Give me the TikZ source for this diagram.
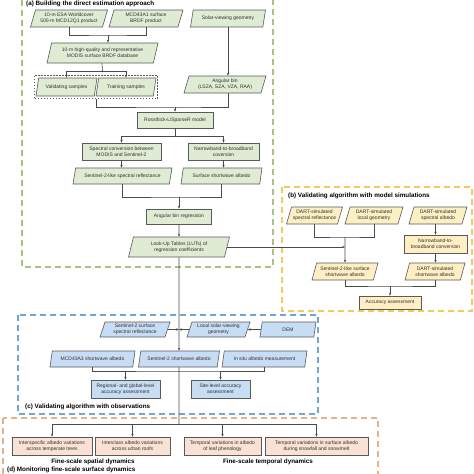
\documentclass[tikz,border=0pt]{standalone}
\usepackage{fontspec}
\setmainfont{Liberation Sans}
\usetikzlibrary{shapes.geometric,arrows.meta,fit}
\definecolor{boxline}{HTML}{5A5A5A}
\definecolor{linkgray}{HTML}{4A4A4A}
\definecolor{txt}{HTML}{303030}
\definecolor{gfill}{HTML}{E0EBD3}
\definecolor{yfill}{HTML}{FDEEC4}
\definecolor{bfill}{HTML}{C7DDF4}
\definecolor{ofill}{HTML}{F9E2D3}
\definecolor{gframe}{HTML}{A8C283}
\definecolor{yframe}{HTML}{F3CB5A}
\definecolor{bframe}{HTML}{6FA6D6}
\definecolor{oframe}{HTML}{E2B487}
\begin{document}
\begin{tikzpicture}[x=1pt,y=-1pt,
		box/.style={draw=boxline,line width=0.6pt,text=txt,font=\fontsize{5}{5.8}\selectfont,align=center,inner sep=1pt},
		rect/.style={box,rectangle},
		par/.style={box,trapezium,trapezium left angle=68,trapezium right angle=112,trapezium stretches body},
		link/.style={draw=linkgray,line width=0.6pt},
		arr/.style={link,-{Stealth[length=3pt,width=2.4pt]}},
		frame/.style={line width=1.1pt,dash pattern=on 6pt off 4pt},
		title/.style={font=\fontsize{6.3}{7}\selectfont\bfseries,text=black,inner sep=0pt}]
	\useasboundingbox (0,0) rectangle (474,474);
	\fill[white] (0,0) rectangle (474,474);
	\draw[frame,draw=gframe] (22,-10) rectangle (273,267);
	\draw[frame,draw=yframe] (282,187) rectangle (472,311);
	\draw[frame,draw=bframe] (18,315) rectangle (318,414);
	\draw[frame,draw=oframe] (3,418) rectangle (378,490);
	\node[title,anchor=base west] (ta) at (26,5.5) {(a) Building the direct estimation approach};
	\node[title,anchor=base west] (tb) at (288,197.5) {(b) Validating algorithm with model simulations};
	\node[title,anchor=base west] (tc) at (25,408.5) {(c) Validating algorithm with observations};
	\node[title,anchor=north west] (td) at (7,466.5) {(d) Monitoring fine-scale surface dynamics};
	\node[par,fill=gfill,minimum width=77pt,minimum height=17pt] (esa) at (69,18.5) {10-m ESA Worldcover\\500-m MCD12Q1 product};
	\node[par,fill=gfill,minimum width=74pt,minimum height=17pt] (mcd1) at (146,18.5) {MCD43A1 surface\\BRDF product};
	\node[par,fill=gfill,minimum width=75pt,minimum height=17pt] (solar) at (228,18.5) {Solar-viewing geometry};
	\node[par,fill=gfill,minimum width=111pt,minimum height=20pt] (db) at (102.5,53) {10-m high-quality and representative\\MODIS surface BRDF database};
	\node[par,fill=gfill,minimum width=61pt,minimum height=18pt] (valid) at (66.5,87) {Validating samples};
	\node[par,fill=gfill,minimum width=60pt,minimum height=18pt] (train) at (126,87) {Training samples};
	\node[draw=boxline,line width=0.7pt,dash pattern=on 1.5pt off 1.5pt,inner sep=2.5pt,fit=(valid)(train)] (samples) {};
	\node[par,fill=gfill,minimum width=82pt,minimum height=17pt] (bin) at (225,84.5) {Angular bin\\(LSZA, SZA, VZA, RAA)};
	\node[rect,fill=gfill,minimum width=76pt,minimum height=16pt] (ross) at (175,120) {Rossthick-LiSparseR model};
	\node[rect,fill=gfill,minimum width=79pt,minimum height=17pt] (spec) at (121.5,151.5) {Spectral conversion between\\MODIS and Sentinel-2};
	\node[rect,fill=gfill,minimum width=71pt,minimum height=17pt] (nbb) at (223.5,151.5) {Narrowband-to-broadband\\coversion};
	\node[par,fill=gfill,minimum width=99pt,minimum height=16pt] (s2like) at (122.5,176) {Sentinel-2-like spectral reflectance};
	\node[par,fill=gfill,minimum width=81pt,minimum height=16pt] (ssa) at (221.5,176) {Surface shortwave albedo};
	\node[rect,fill=gfill,minimum width=65pt,minimum height=15pt] (binreg) at (179,216.5) {Angular bin regression};
	\node[par,fill=gfill,minimum width=101pt,minimum height=20pt] (lut) at (179,247) {Look-Up Tables (LUTs) of\\regression coefficients};
	\node[par,fill=yfill,minimum width=56pt,minimum height=17pt] (dsr) at (314.5,215.5) {DART-simulated\\spectral reflectance};
	\node[par,fill=yfill,minimum width=58pt,minimum height=17pt] (dlg) at (374,215.5) {DART-simulated\\local geometry};
	\node[par,fill=yfill,minimum width=58pt,minimum height=17pt] (dsa) at (438,215.5) {DART-simulated\\spectral albedo};
	\node[rect,fill=yfill,minimum width=63pt,minimum height=18pt] (nb2) at (435.5,244) {Narrowband-to-\\broadband conversion};
	\node[par,fill=yfill,minimum width=66pt,minimum height=17pt] (s2sw) at (345,271.5) {Sentinel-2-like surface\\shortwave albedo};
	\node[par,fill=yfill,minimum width=60pt,minimum height=17pt] (dsw) at (435,271.5) {DART-simulated\\shortwave albedo};
	\node[rect,fill=yfill,minimum width=62pt,minimum height=13pt] (acc) at (390,302.5) {Accuracy assessment};
	\node[par,fill=bfill,minimum width=70pt,minimum height=15pt] (s2ref) at (135,329.5) {Sentinel-2 surface\\spectral reflectance};
	\node[par,fill=bfill,minimum width=63pt,minimum height=15pt] (lsv) at (218.5,329.5) {Local solar-viewing\\geometry};
	\node[par,fill=bfill,minimum width=56pt,minimum height=15pt] (dem) at (288,329.5) {DEM};
	\node[par,fill=bfill,minimum width=85pt,minimum height=16pt] (mcd3) at (92.5,359) {MCD43A3 shortwave albedo};
	\node[par,fill=bfill,minimum width=81pt,minimum height=16pt] (s2sa) at (179,359) {Sentinel-2 shortwave albedo};
	\node[par,fill=bfill,minimum width=85pt,minimum height=16pt] (insitu) at (264.5,359) {In situ albedo measurement};
	\node[rect,fill=bfill,minimum width=69pt,minimum height=18pt] (regional) at (125.5,389) {Regional- and global-level\\accuracy assessment};
	\node[rect,fill=bfill,minimum width=59pt,minimum height=18pt] (site) at (220.5,389) {Site-level accuracy\\assessment};
	\node[rect,fill=ofill,minimum width=80pt,minimum height=18pt] (trees) at (52,446) {Interspecific albedo variations\\across temperate trees};
	\node[rect,fill=ofill,minimum width=75pt,minimum height=18pt] (roofs) at (132.5,446) {Interclass albedo variations\\across urban roofs};
	\node[rect,fill=ofill,minimum width=77pt,minimum height=18pt] (leaf) at (222.5,446) {Temporal variations in albedo\\of leaf phenology};
	\node[rect,fill=ofill,minimum width=103pt,minimum height=18pt] (snow) at (316.5,446) {Temporal variations in surface albedo\\during snowfall and snowmelt};
	\node[title] (spatial) at (93,462) {Fine-scale spatial dynamics};
	\node[title] (temporal) at (268,462) {Fine-scale temporal dynamics};
	\coordinate (j1) at (108,35);
	\coordinate (j2) at (102,71);
	\coordinate (j3) at (175,107);
	\coordinate (j4) at (175,136);
	\coordinate (j5) at (179,197);
	\coordinate (j6) at (345,237);
	\coordinate (j7) at (390,286);
	\coordinate (j8) at (179,371);
	\coordinate (j9) at (179,424);
	\draw[link] (esa.south) |- (j1) -| (mcd1.south);
	\draw[arr] (j1) -- (j1 |- db.north);
	\draw[link] (db.south |- j2) -- (j2 |- db.south);
	\draw[arr] (j2) -| (valid.north);
	\draw[arr] (j2) -| (train.north);
	\draw[arr] (solar.south) -- (solar.south |- bin.north);
	\draw[link] (samples.south) |- (j3) -| (bin.south -| solar.south);
	\draw[arr] (j3) -- (ross.north);
	\draw[link] (ross.south) -- (j4);
	\draw[arr] (j4) -| (spec.north);
	\draw[arr] (j4) -| (nbb.north);
	\draw[arr] (spec.south) -- (spec.south |- s2like.north);
	\draw[arr] (nbb.south) -- (nbb.south |- ssa.north);
	\draw[link] (s2like.south) |- (j5) -| (ssa.south);
	\draw[arr] (j5) -- (binreg.north);
	\draw[arr] (binreg.south) -- (lut.north);
	\draw[link] (dsr.south) |- (j6) -| (dlg.south);
	\draw[arr] (j6) -- (s2sw.north);
	\draw[arr] (lut.east) -- (lut.east -| s2sw.north);
	\draw[arr] (nb2.north |- dsa.south) -- (nb2.north);
	\draw[arr] (nb2.south) -- (nb2.south |- dsw.north);
	\draw[link] (s2sw.south) |- (j7) -| (dsw.south);
	\draw[arr] (j7) -- (acc.north);
	\draw[arr] (lut.south) -- (s2sa.north);
	\draw[arr] (s2ref.east) -- (s2ref.east -| lut.south);
	\draw[arr] (lsv.west) -- (lsv.west -| lut.south);
	\draw[arr] (dem.west) -- (lsv.east);
	\draw[link] (mcd3.south) |- (j8) -| (insitu.south);
	\draw[link] (s2sa.south) -- (j9);
	\draw[arr] (regional.north |- j8) -- (regional.north);
	\draw[arr] (site.north |- j8) -- (site.north);
	\draw[link] (trees.north |- j9) -- (snow.north |- j9);
	\draw[arr] (trees.north |- j9) -- (trees.north);
	\draw[arr] (roofs.north |- j9) -- (roofs.north);
	\draw[arr] (leaf.north |- j9) -- (leaf.north);
	\draw[arr] (snow.north |- j9) -- (snow.north);
\end{tikzpicture}
\end{document}
